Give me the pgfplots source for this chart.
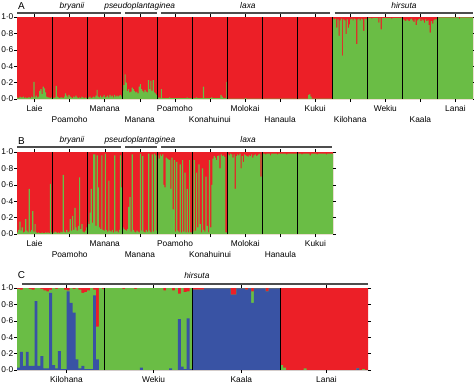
\documentclass[border=0pt]{standalone}
\usepackage{fontspec}
\setmainfont{Liberation Sans}
\usepackage{pgfplots}
\pgfplotsset{compat=1.18}
\definecolor{sred}{HTML}{EC1F27}
\definecolor{sgreen}{HTML}{6ABD45}
\definecolor{sblue}{HTML}{3953A4}
\definecolor{annc}{HTML}{4D4D4D}
\newcommand{\tl}{\fontsize{8.4}{9}\selectfont}
\pgfplotsset{
  structure/.style={
    scale only axis,
    ymin=0, ymax=1,
    axis line style={draw=none},
    ytick={0,0.2,0.4,0.6,0.8,1},
    yticklabels={0·0,0·2,0·4,0·6,0·8,1·0},
    tick align=outside,
    major tick length=3bp,
    minor tick length=0bp,
    tick style={black, line width=0.5bp},
    ticklabel style={font=\tl},
    yticklabel style={inner sep=0.4bp},
    xminorgrids=true,
    minor grid style={black, line width=0.9bp},
    clip=false,
    axis on top,
    height=82bp,
  },
}
\begin{document}
\begin{tikzpicture}
\path[use as bounding box] (0,0) rectangle (474bp,-386bp);
% ---------------- Panel A ----------------
\begin{axis}[structure, at={(17bp,-99bp)}, anchor=south west, width=456bp,
  xmin=0, xmax=390,
  xtick={15,75,135,195,255,315,375},
  xticklabels={Laie,Manana,Poamoho,Molokai,Kukui,Wekiu,Lanai},
  extra x ticks={45,105,165,225,285,345},
  extra x tick labels={Poamoho,Manana,Konahuinui,Hanaula,Kilohana,Kaala},
  extra x tick style={xticklabel style={yshift=-11bp}},
  minor xtick={30,60,90,120,150,180,210,240,270,300,330,360},
]
\addplot[fill=sred, draw=none] coordinates {(0,0) (390,0) (390,1) (0,1)} \closedcycle;
\addplot[const plot, fill=sgreen, draw=none] coordinates {
(0,0.02)(1,0.01)(2,0.03)(3,0.02)(5,0.03)(6,0.01)(7,0.02)(8,0.01)(9,0.02)(11,0.01)(12,0.03)(13,0.02)(14,0.21)(15,0.02)(16,0.04)(17,0.02)(18,0.03)(19,0.10)(20,0.12)(21,0.06)(22,0.15)(23,0.13)(24,0.08)(25,0.03)(26,0.02)(28,0.01)(29,0.02)
(30,0.02)(31,0.01)(32,0.02)(33,0.16)(34,0.03)(35,0.02)(36,0.01)(37,0.02)(39,0.01)(40,0.03)(41,0.07)(42,0.04)(43,0.02)(44,0.05)(45,0.03)(46,0.02)(47,0.01)(48,0.03)(49,0.02)(50,0.04)(51,0.02)(52,0.01)(53,0.02)(54,0.01)(55,0.03)(56,0.02)(57,0.01)(58,0.02)(59,0.01)
(60,0.01)(61,0.02)(62,0.03)(63,0.01)(64,0.02)(65,0.03)(66,0.02)(67,0.04)(68,0.11)(69,0.03)(70,0.02)(71,0.04)(72,0.02)(73,0.03)(74,0.05)(75,0.02)(76,0.03)(77,0.04)(78,0.02)(79,0.05)(80,0.03)(81,0.04)(82,0.02)(83,0.05)(84,0.03)(85,0.04)(86,0.03)(87,0.04)(88,0.05)(89,0.03)
(90,0.10)(91,0.17)(92,0.30)(93,0.20)(94,0.10)(95,0.12)(96,0.08)(97,0.09)(98,0.14)(99,0.12)(100,0.10)(101,0.08)(102,0.09)(103,0.07)(104,0.15)(105,0.18)(106,0.12)(107,0.10)(108,0.08)(109,0.11)(110,0.09)(111,0.08)(112,0.23)(113,0.12)(114,0.22)(115,0.10)(116,0.23)(117,0.08)(118,0.07)(119,0.05)
(120,0.01)(121,0.02)(122,0.01)(123,0.12)(124,0.01)(130,0.02)(131,0.01)(145,0.02)(146,0.01)
(150,0.01)(153,0.02)(154,0.01)(159,0.15)(160,0.01)(166,0.02)(167,0.01)(174,0.05)(175,0.03)(176,0.01)(179,0.21)
(180,0.005)(195,0.01)(196,0.005)
(210,0.005)
(240,0.005)(249,0.05)(250,0.06)(251,0.03)(252,0.005)
(270,0.98)(271,0.97)(272,0.98)(273,0.87)(274,0.97)(275,0.77)(276,0.96)(277,0.98)(278,0.53)(279,0.97)(280,0.96)(281,0.79)(282,0.97)(283,0.87)(284,0.91)(285,0.97)(286,0.98)(287,0.96)(288,0.98)(289,0.97)(290,0.67)(291,0.97)(292,0.98)(293,0.96)(294,0.98)(295,0.97)(296,0.83)(297,0.98)(298,0.97)(299,0.98)
(300,0.99)(303,0.98)(304,0.99)(309,0.93)(310,0.99)(311,0.85)(312,0.99)(320,0.98)(321,0.99)
(330,0.97)(331,0.96)(332,0.95)(333,0.97)(334,0.96)(335,0.95)(336,0.97)(337,0.98)(338,0.96)(339,0.94)(340,0.97)(341,0.90)(342,0.96)(343,0.97)(344,0.98)(345,0.95)(346,0.97)(347,0.96)(348,0.93)(349,0.97)(350,0.95)(351,0.96)(352,0.90)(353,0.81)(354,0.95)(355,0.92)(356,0.96)(357,0.97)(358,0.97)(359,0.98)
(360,0.995)(378,0.98)(379,0.995)(390,0.995)
} \closedcycle;
\node[font=\fontsize{10}{10}\selectfont] at ([xshift=4.5bp,yshift=11bp]axis cs:0,1) {A};
\draw[annc, line width=1.2bp] ([yshift=4bp]axis cs:0,1) -- ([yshift=4bp]axis cs:89,1);
\draw[annc, line width=1.2bp] ([yshift=4bp]axis cs:92.3,1) -- ([yshift=4bp]axis cs:119.6,1);
\draw[annc, line width=1.2bp] ([yshift=4bp]axis cs:123,1) -- ([yshift=4bp]axis cs:267.4,1);
\draw[annc, line width=1.2bp] ([yshift=4bp]axis cs:271.7,1) -- ([yshift=4bp]axis cs:390,1);
\node[font=\tl\itshape] at ([yshift=11bp]axis cs:47,1) {bryanii};
\node[font=\tl\itshape] at ([yshift=11bp]axis cs:105,1) {pseudoplantaginea};
\node[font=\tl\itshape] at ([yshift=11bp]axis cs:197.5,1) {laxa};
\node[font=\tl\itshape] at ([yshift=11bp]axis cs:331,1) {hirsuta};
\end{axis}
% ---------------- Panel B ----------------
\begin{axis}[structure, at={(17bp,-234bp)}, anchor=south west, width=316bp,
  xmin=0, xmax=270,
  xtick={15,75,135,195,255},
  xticklabels={Laie,Manana,Poamoho,Molokai,Kukui},
  extra x ticks={45,105,165,225},
  extra x tick labels={Poamoho,Manana,Konahuinui,Hanaula},
  extra x tick style={xticklabel style={yshift=-11bp}},
  minor xtick={30,60,90,120,150,180,210,240},
]
\addplot[fill=sred, draw=none] coordinates {(0,0) (270,0) (270,1) (0,1)} \closedcycle;
\addplot[const plot, fill=sgreen, draw=none] coordinates {
(0,0.02)(1,0.05)(2,0.15)(3,0.04)(4,0.08)(5,0.02)(6,0.03)(7,0.18)(8,0.04)(9,0.02)(10,0.55)(11,0.03)(12,0.05)(13,0.28)(14,0.03)(15,0.12)(16,0.02)(17,0.01)(18,0.02)(19,0.01)(21,0.02)(22,0.01)(24,0.02)(25,0.01)(26,0.02)(27,0.01)(28,0.61)(29,0.02)
(30,0.02)(31,0.01)(32,0.03)(33,0.02)(34,0.01)(35,0.02)(36,0.01)(37,0.03)(38,0.02)(39,0.72)(40,0.03)(41,0.02)(42,0.05)(43,0.02)(44,0.03)(45,0.18)(46,0.04)(47,0.22)(48,0.05)(49,0.32)(50,0.08)(51,0.04)(52,0.10)(53,0.69)(54,0.06)(55,0.12)(56,0.03)(57,0.02)(58,0.04)(59,0.08)
(60,0.15)(61,0.12)(62,0.26)(63,0.55)(64,0.14)(65,0.97)(66,0.97)(67,0.10)(68,0.96)(69,0.57)(70,0.08)(71,0.06)(72,0.96)(73,0.05)(74,0.04)(75,0.98)(76,0.05)(77,0.03)(78,0.65)(79,0.04)(80,0.03)(81,0.05)(82,0.02)(83,0.96)(84,0.03)(85,0.04)(86,0.02)(87,0.05)(88,0.96)(89,0.57)
(90,0.08)(91,0.06)(92,0.05)(93,0.04)(94,0.06)(95,0.33)(96,0.45)(97,0.03)(98,0.97)(99,0.05)(100,0.03)(101,0.02)(102,0.04)(103,0.03)(104,0.02)(105,0.98)(106,0.04)(107,0.95)(108,0.03)(109,0.02)(110,0.05)(111,0.03)(112,0.98)(113,0.04)(114,0.02)(115,0.97)(116,0.03)(117,0.98)(118,0.96)(119,0.04)
(120,0.96)(121,0.92)(122,0.97)(123,0.95)(124,0.97)(125,0.60)(126,0.57)(127,0.93)(128,0.92)(129,0.91)(130,0.90)(131,0.55)(132,0.93)(133,0.30)(134,0.90)(135,0.03)(136,0.88)(137,0.04)(138,0.02)(139,0.85)(140,0.02)(141,0.90)(142,0.03)(143,0.75)(144,0.02)(145,0.55)(146,0.02)(147,0.90)(148,0.02)(149,0.02)
(150,0.03)(151,0.90)(152,0.04)(153,0.75)(154,0.08)(155,0.85)(156,0.12)(157,0.02)(158,0.80)(159,0.05)(160,0.03)(161,0.70)(162,0.10)(163,0.02)(164,0.90)(165,0.08)(166,0.60)(167,0.92)(168,0.95)(169,0.93)(170,0.90)(171,0.95)(172,0.96)(173,0.80)(174,0.97)(175,0.95)(176,0.96)(177,0.94)(178,0.02)(179,0.02)
(180,0.97)(181,0.96)(182,0.98)(183,0.97)(184,0.93)(185,0.97)(186,0.55)(187,0.95)(188,0.97)(189,0.96)(190,0.98)(191,0.80)(192,0.95)(193,0.88)(194,0.97)(195,0.96)(196,0.95)(197,0.94)(198,0.96)(199,0.95)(200,0.97)(201,0.93)(202,0.96)(203,0.97)(204,0.95)(205,0.96)(206,0.97)(207,0.98)(208,0.70)(209,0.97)
(210,0.98)(212,0.97)(213,0.98)(216,0.96)(217,0.98)(222,0.97)(223,0.98)(230,0.97)(231,0.98)
(240,0.98)(243,0.97)(244,0.98)(250,0.96)(251,0.98)(256,0.97)(257,0.98)(264,0.97)(265,0.98)(270,0.98)
} \closedcycle;
\node[font=\fontsize{10}{10}\selectfont] at ([xshift=4.5bp,yshift=11bp]axis cs:0,1) {B};
\draw[annc, line width=1.2bp] ([yshift=5bp]axis cs:0,1) -- ([yshift=5bp]axis cs:89,1);
\draw[annc, line width=1.2bp] ([yshift=5bp]axis cs:92.3,1) -- ([yshift=5bp]axis cs:119.6,1);
\draw[annc, line width=1.2bp] ([yshift=5bp]axis cs:123,1) -- ([yshift=5bp]axis cs:269,1);
\node[font=\tl\itshape] at ([yshift=12bp]axis cs:47,1) {bryanii};
\node[font=\tl\itshape] at ([yshift=12bp]axis cs:105,1) {pseudoplantaginea};
\node[font=\tl\itshape] at ([yshift=12bp]axis cs:197.5,1) {laxa};
\end{axis}
% ---------------- Panel C ----------------
\begin{axis}[structure, at={(17bp,-370bp)}, anchor=south west, width=351bp,
  xmin=0, xmax=120,
  xtick={16.9,46.7,76.7,105.8},
  xticklabels={Kilohana,Wekiu,Kaala,Lanai},
  minor xtick={30,60,90},
]
\addplot[fill=sred, draw=none] coordinates {(0,0) (120,0) (120,1) (0,1)} \closedcycle;
\addplot[const plot, fill=sgreen, draw=none] coordinates {
(0,0.99)(1,0.98)(2,1)(4,0.99)(5,0.98)(6,1)(8,0.99)(9,0.97)(10,0.96)(11,0.98)(12,1)(13,0.99)(14,1)(16,0.98)(17,0.97)(18,1)(19,0.99)(20,1)(21,0.98)(22,0.94)(23,0.95)(24,0.97)(25,1)(26,0.98)(27,0.53)(28,1)(29,0.99)
(30,1)(36,0.99)(37,1)(40,0.99)(41,1)(50,0.97)(51,1)(53,0.97)(54,1)(55,0.93)(56,1)(57,0.95)(58,0.96)(59,1)
(60,0.98)(64,0.995)(73,0.92)(75,0.995)(78,0.98)(79,0.995)(80,0.96)(81,0.995)(85,0.96)(86,0.995)
(90,0.06)(91,0.03)(92,0)(98,0.02)(99,0)(116,0.02)(117,0)(118,0.01)(119,0)(120,0)
} \closedcycle;
\addplot[const plot, fill=sblue, draw=none] coordinates {
(0,0.03)(1,0.22)(2,0.05)(3,0.22)(4,0.05)(6,0.84)(7,0.05)(8,0.17)(9,0.02)(11,0.94)(12,0.06)(13,0.02)(14,0.23)(15,0.01)(17,0.96)(18,0.82)(19,0.70)(20,0.13)(21,0.02)(22,0.05)(23,0.01)(26,0.91)(27,0.13)(28,0)
(42,0.03)(43,0)(52,0.02)(53,0)(55,0.62)(56,0.04)(57,0.01)(58,0.63)(59,0.01)
(60,0.98)(64,0.995)(73,0.92)(75,0.995)(78,0.98)(79,0.995)(80,0.82)(81,0.995)(85,0.96)(86,0.995)
(90,0)(116,0.02)(117,0)(120,0)
} \closedcycle;
\node[font=\fontsize{10}{10}\selectfont] at ([xshift=4.5bp,yshift=12.5bp]axis cs:0,1) {C};
\draw[annc, line width=1.2bp] ([yshift=4bp]axis cs:1.7,1) -- ([yshift=4bp]axis cs:120,1);
\node[font=\tl\itshape] at ([yshift=12bp]axis cs:61.5,1) {hirsuta};
\end{axis}
\end{tikzpicture}
\end{document}
